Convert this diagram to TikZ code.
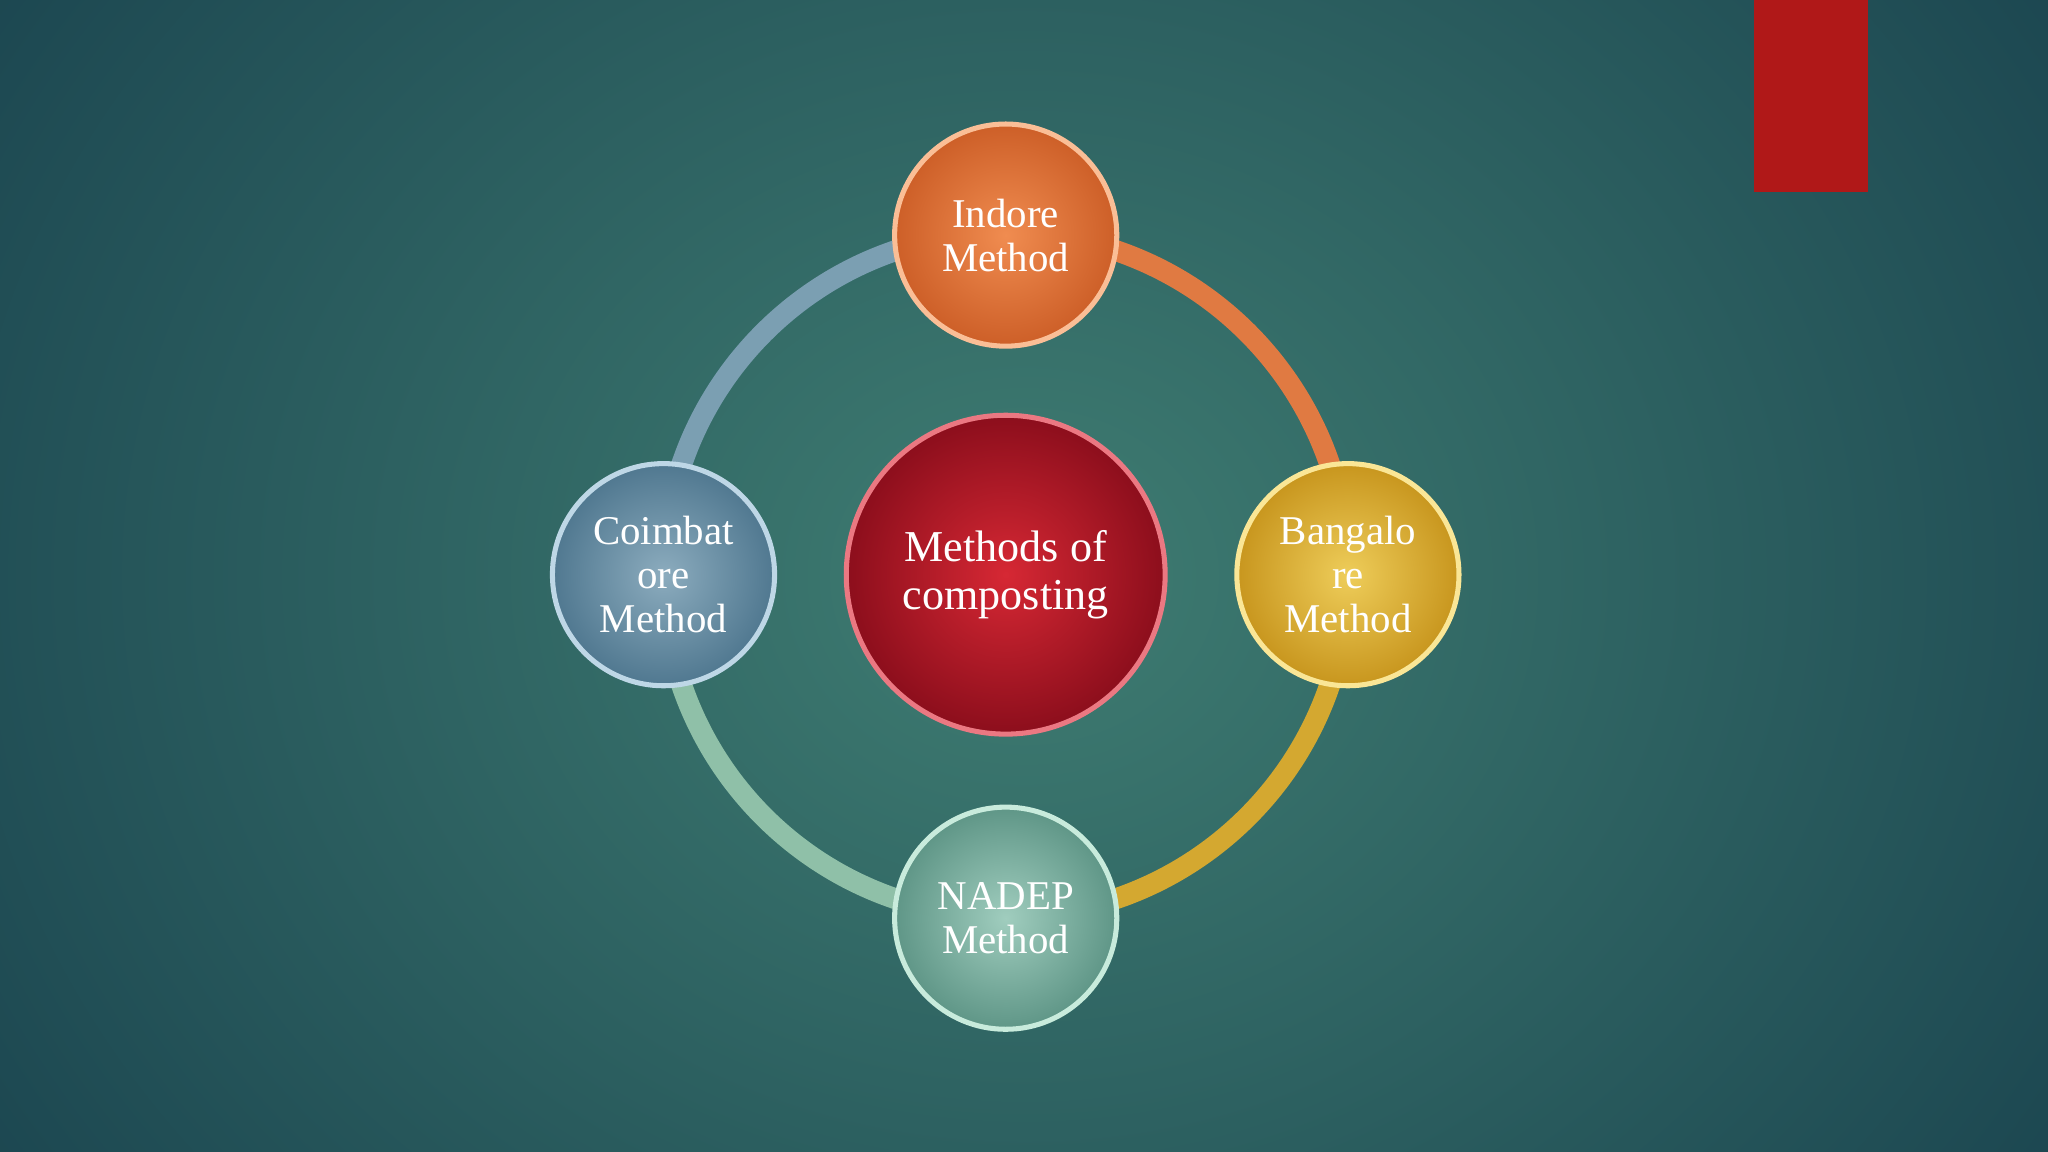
\documentclass[tikz,border=0pt]{standalone}
\usepackage{fontspec}
\setmainfont{Liberation Serif}
\definecolor{bgin}{HTML}{3F7D72}
\definecolor{bgout}{HTML}{173F4C}
\definecolor{rsl}{HTML}{7B9FB2}
\definecolor{ror}{HTML}{E07A42}
\definecolor{rgo}{HTML}{D4A830}
\definecolor{rgr}{HTML}{8FC0A8}
\begin{document}
\begin{tikzpicture}[x=0.01cm,y=-0.01cm,
  ball/.style={circle, minimum size=1.7cm, inner sep=0pt, align=center, text=white,
    font=\fontsize{8.9}{9.6}\selectfont, line width=1.1pt},
  ring/.style={line width=0.16cm}]
\useasboundingbox (0,0) rectangle (1568,882);
\shade[inner color=bgin, outer color=bgout] (-300,-500) rectangle (1868,1382);
\fill[color={rgb,255:red,176;green,24;blue,24}] (1343,0) rectangle (1430,147);
\coordinate (c) at (770,440);
\draw[ring, rsl] (c) ++(0,-262) arc[start angle=270, end angle=180, radius=262];
\draw[ring, ror] (c) ++(0,-262) arc[start angle=270, end angle=360, radius=262];
\draw[ring, rgo] (c) ++(262,0) arc[start angle=0, end angle=90, radius=262];
\draw[ring, rgr] (c) ++(0,262) arc[start angle=90, end angle=180, radius=262];
\node[ball, minimum size=2.44cm, draw={rgb,255:red,235;green,120;blue,130}, inner color={rgb,255:red,214;green,40;blue,52}, outer color={rgb,255:red,140;green,14;blue,28}, font=\fontsize{9.6}{10.4}\selectfont] (m) at (770,440) {Methods of\\composting};
\node[ball, draw={rgb,255:red,250;green,190;blue,150}, inner color={rgb,255:red,240;green,140;blue,80}, outer color={rgb,255:red,205;green,95;blue,40}] (i) at (770,180) {Indore\\Method};
\node[ball, draw={rgb,255:red,250;green,230;blue,150}, inner color={rgb,255:red,238;green,205;blue,90}, outer color={rgb,255:red,200;green,150;blue,30}] (b) at (1032,440) {Bangalo\\re\\Method};
\node[ball, draw={rgb,255:red,200;green,235;blue,220}, inner color={rgb,255:red,160;green,205;blue,190}, outer color={rgb,255:red,95;green,150;blue,135}] (n) at (770,703) {NADEP\\Method};
\node[ball, draw={rgb,255:red,190;green,215;blue,230}, inner color={rgb,255:red,140;green,172;blue,190}, outer color={rgb,255:red,80;green,120;blue,144}] (k) at (508,440) {Coimbat\\ore\\Method};
\end{tikzpicture}
\end{document}
